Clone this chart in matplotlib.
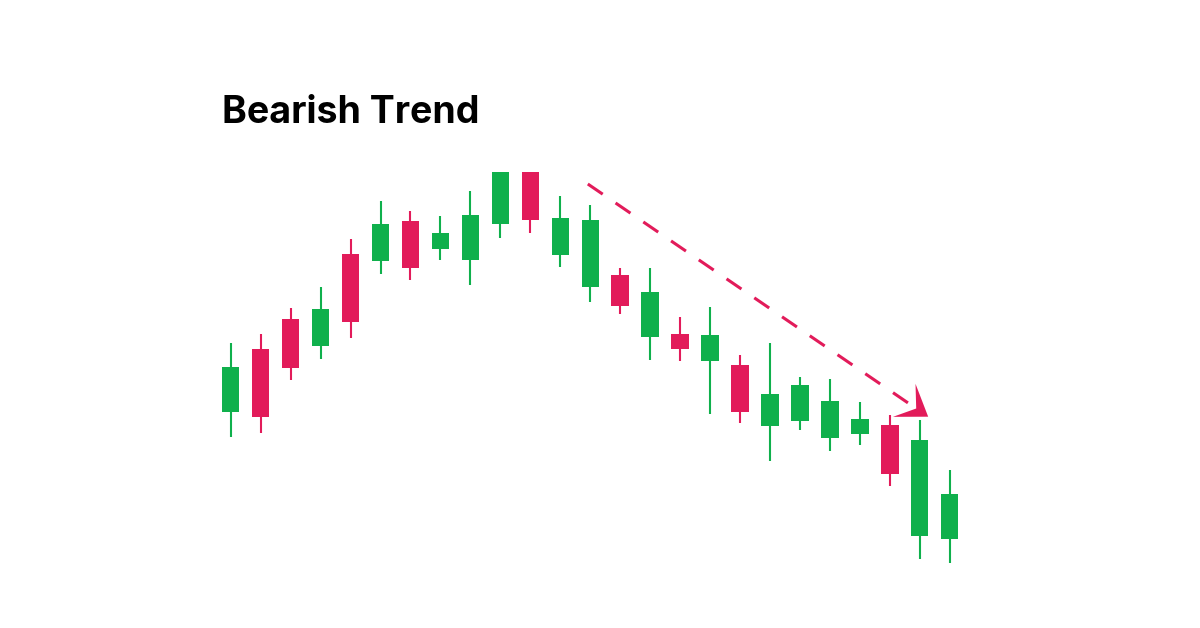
import numpy as np
import matplotlib
matplotlib.use('Agg')
import matplotlib.pyplot as plt
from matplotlib.patches import Polygon

# candle values (arbitrary price units)
opens  = [215.7, 279.0, 309.0, 282.3, 374.0, 367.3, 407.0, 379.3, 367.7, 404.3,
          456.0, 373.3, 341.3, 353.3, 291.3, 294.0, 267.3, 262.7, 202.3, 207.0,
          190.3, 193.7, 202.7, 91.7, 89.0]
closes = [260.7, 211.3, 259.7, 318.7, 306.0, 404.0, 359.7, 395.3, 413.0, 456.0,
          408.3, 409.7, 408.3, 321.7, 336.0, 278.7, 292.7, 216.0, 234.0, 242.7,
          226.7, 209.3, 154.0, 187.7, 133.7]
highs  = [285.0, 293.7, 320.0, 341.0, 388.7, 426.7, 417.3, 412.3, 437.0, 456.0,
          456.0, 432.0, 422.7, 360.0, 360.0, 311.0, 320.7, 273.0, 285.0, 250.7,
          248.7, 226.3, 213.0, 208.3, 157.7]
lows   = [191.3, 195.3, 248.0, 269.0, 290.3, 354.3, 348.3, 368.3, 343.3, 389.7,
          394.7, 360.7, 325.7, 313.7, 267.7, 267.3, 213.7, 204.7, 167.0, 198.3,
          177.3, 182.7, 142.3, 69.3, 64.7]

# trend arrow (start / tip), candle index and price
trend_start = (11.92, 444.0)
trend_end = (23.28, 211.3)

GREEN = '#0FB04C'
RED = '#E21B5A'

fig = plt.figure(figsize=(12, 6.28), dpi=100)
ax = fig.add_axes([0, 0, 1, 1])

x = np.arange(len(opens))
o = np.array(opens)
c = np.array(closes)
colors = [GREEN if cc > oo else RED for oo, cc in zip(o, c)]

ax.vlines(x, lows, highs, colors=colors, linewidth=1.5, zorder=2)
ax.bar(x, np.abs(c - o), bottom=np.minimum(o, c), width=0.58,
       color=colors, linewidth=0, zorder=3)

ax.set_xlim(-230.7 / 29.96, (1200 - 230.7) / 29.96)
ax.set_ylim(0, 628)
ax.axis('off')

# dashed trend line, then a stealth style head drawn in pixel space
p0 = ax.transData.transform(trend_start)
p1 = ax.transData.transform(trend_end)
d = (p1 - p0) / np.hypot(*(p1 - p0))
n = np.array([-d[1], d[0]])
head_len, head_w = 29, 20
line_end = ax.transData.inverted().transform(p1 - d * head_len * 0.62)
ax.plot([trend_start[0], line_end[0]], [trend_start[1], line_end[1]],
        color=RED, linewidth=2.2, dashes=(5.9, 5.1), dash_capstyle='butt',
        zorder=4)
head = [p1,
        p1 - d * head_len + n * head_w,
        p1 - d * head_len * 0.5,
        p1 - d * head_len - n * head_w]
ax.add_patch(Polygon(head, closed=True, transform=None, color=RED,
                     linewidth=0, zorder=5))

fig.text(222 / 1200, 1 - 123 / 628, 'Bearish Trend', fontsize=27,
         fontweight='bold', family=['Inter', 'DejaVu Sans'],
         ha='left', va='baseline', color='black')

fig.savefig('out.png', dpi=100, facecolor='white')
